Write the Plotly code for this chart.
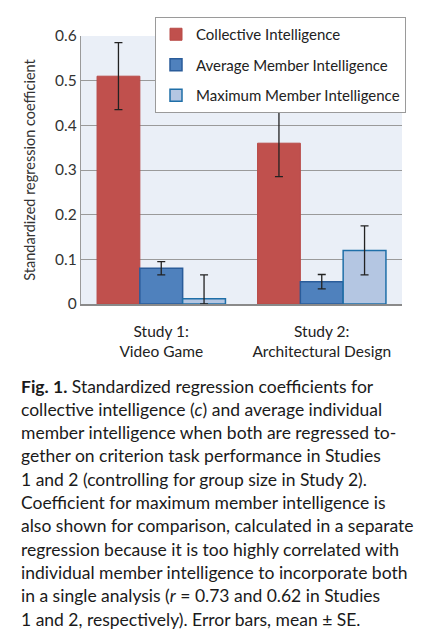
import plotly.graph_objects as go

# data
studies = ["Study 1:<br>Video Game", "Study 2:<br>Architectural Design"]
collective = [0.51, 0.36]
collective_se = [0.075, 0.075]
average = [0.08, 0.05]
average_se = [0.015, 0.016]
maximum = [0.012, 0.12]
maximum_se = [0.053, 0.055]
y_ticks = [0, 0.1, 0.2, 0.3, 0.4, 0.5, 0.6]
y_ticktext = ["0", "0.1", "0.2", "0.3", "0.4", "0.5", "0.6"]

caption_lines = [
    "<b>Fig. 1.</b> Standardized regression coefficients for",
    "collective intelligence (<i>c</i>) and average individual",
    "member intelligence when both are regressed to-",
    "gether on criterion task performance in Studies",
    "1 and 2 (controlling for group size in Study 2).",
    "Coefficient for maximum member intelligence is",
    "also shown for comparison, calculated in a separate",
    "regression because it is too highly correlated with",
    "individual member intelligence to incorporate both",
    "in a single analysis (<i>r</i> = 0.73 and 0.62 in Studies",
    "1 and 2, respectively). Error bars, mean \u00b1 SE.",
]

W, H = 426, 640
L, R, T, B = 81, 24, 36, 336
ph = H - T - B


def py(pix):
    # pixel row -> paper y
    return (H - B - pix) / ph


def px_(pix):
    return (pix - L) / (W - L - R)


def err(se, minus=None):
    d = dict(type="data", array=se, visible=True, color="#222", thickness=1.3, width=4)
    if minus is not None:
        d["arrayminus"] = minus
    return d


fig = go.Figure()
fig.add_trace(go.Bar(x=studies, y=collective, name="Collective Intelligence",
                     legendgroup="a",
                     marker=dict(color="#C0504D", line=dict(color="#B84A47", width=1)),
                     error_y=err(collective_se)))
fig.add_trace(go.Bar(x=studies, y=average, name="Average Member Intelligence",
                     legendgroup="b",
                     marker=dict(color="#4F81BD", line=dict(color="#2A5C9A", width=1.5)),
                     error_y=err(average_se)))
fig.add_trace(go.Bar(x=studies, y=maximum, name="Maximum Member Intelligence",
                     legendgroup="c",
                     marker=dict(color="#B4C6E2", line=dict(color="#1F6FA8", width=1.5)),
                     error_y=err(maximum_se, [maximum[0], maximum_se[1]])))

font = "Lato, sans-serif"
fig.update_layout(
    width=W, height=H,
    margin=dict(l=L, r=R, t=T, b=B, autoexpand=False),
    paper_bgcolor="white",
    plot_bgcolor="#EAEFF7",
    barmode="group", bargap=0.2, bargroupgap=0,
    font=dict(family=font, size=14, color="#333"),
    showlegend=True,
    legend=dict(x=px_(155), y=py(17), xanchor="left", yanchor="top",
                bgcolor="white", bordercolor="#9A9A9A", borderwidth=1,
                font=dict(size=15, color="#222"), tracegroupgap=8,
                itemwidth=30),
)
fig.update_yaxes(range=[0, 0.6], tickvals=y_ticks, ticktext=y_ticktext,
                 showgrid=True, gridcolor="#9A9A9A", gridwidth=1.3,
                 showline=True, linecolor="#9A9A9A", linewidth=1.3,
                 ticks="", ticklen=0, zeroline=False, automargin=False,
                 tickfont=dict(size=15.5, color="#333"),
                 title=dict(text="Standardized regression coefficient",
                            font=dict(size=14.5, color="#333"), standoff=16))
fig.update_xaxes(showline=True, linecolor="#8A8A8A", linewidth=2,
                 ticks="", automargin=False, ticklabelstandoff=12,
                 tickfont=dict(size=15.5, color="#222"))

cap_font = "Lato, sans-serif"
for i, line in enumerate(caption_lines):
    fig.add_annotation(text=line, xref="paper", yref="paper",
                       x=px_(19), y=py(386 + i * 23.3),
                       xanchor="left", yanchor="middle", showarrow=False,
                       font=dict(family=cap_font, size=17.5, color="#1a1a1a"))

fig.write_html("out.html", config={"displayModeBar": False},
               post_script="document.body.style.margin='0';")
